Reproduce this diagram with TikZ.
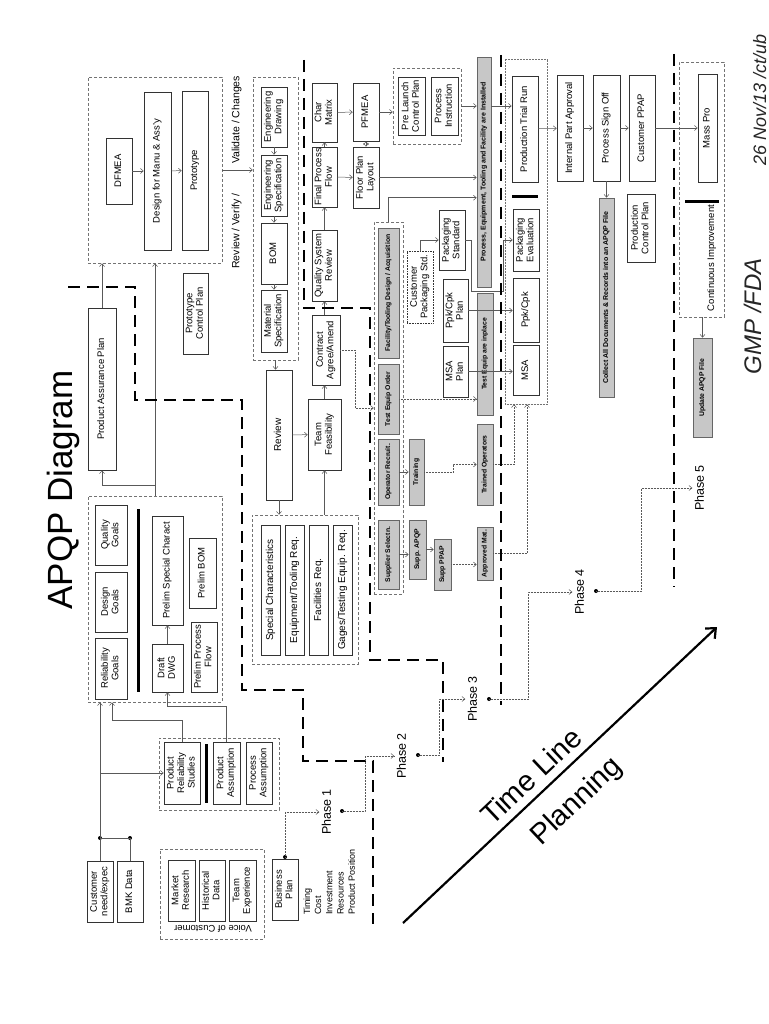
\documentclass[tikz,border=0pt]{standalone}
\usepackage{fontspec}
\setmainfont{Liberation Sans}
\usepackage{tikz}
\usetikzlibrary{positioning,arrows.meta,calc}
\newcommand{\vtext}[1]{\rotatebox{90}{\begin{tabular}{@{}c@{}}#1\end{tabular}}}
\tikzset{
  box/.style={
    draw=black!80,
    line width=0.6pt,
    fill=white,
    inner sep=0pt,
    font=\fontsize{9.5}{10.5}\selectfont
  },
  graybox/.style={
    box,
    fill=black!22,
    draw=black!60,
    font=\fontsize{6.8}{7.5}\selectfont\bfseries
  },
  grp/.style={draw=black!55, line width=0.5pt, dash pattern=on 3pt off 2pt},
  dotgrp/.style={draw=black!55, line width=0.5pt, densely dotted},
  wh/.style 2 args={minimum width=#1pt, minimum height=#2pt},
  arrow/.style={
    draw=black!65,
    line width=0.5pt,
    -{Straight Barb[length=3pt,width=5pt]}
  },
  both/.style={arrow, {Straight Barb[length=3pt,width=5pt]}-{Straight Barb[length=3pt,width=5pt]}},
  dotarrow/.style={arrow, densely dotted},
  link/.style={draw=black!65, line width=0.5pt},
  bar/.style={line width=3pt, black},
  phaseline/.style={line width=2.4pt, dash pattern=on 12pt off 7pt},
  phase/.style={inner sep=1.5pt, font=\fontsize{12.5}{14}\selectfont},
  jdot/.style={circle, fill=black, inner sep=0pt, minimum size=4pt}
}

\begin{document}
\begin{tikzpicture}[x=1pt, y=-1pt]
  \fill[white] (0,0) rectangle (768,1024);
  \useasboundingbox (0,0) rectangle (768,1024);

  % Title
  \node[font=\fontsize{35}{40}\selectfont] (title) at (63,490) {\rotatebox{90}{APQP Diagram}};

  % Design stage
  \node[grp, wh={134}{186}] (desbox) at (155,170) {};
  \node[box, wh={26}{66}] (dfmea) at (119,171) {\vtext{DFMEA}};
  \node[box, wh={27}{158}] (dfm) at (157.5,171) {\vtext{Design for Manu \& Ass'y}};
  \node[box, wh={26}{159}] (proto) at (195,170.5) {\vtext{Prototype}};
  \node[box, wh={25}{81}] (protocp) at (195.5,313.5) {\vtext{Prototype\\Control Plan}};
  \node[box, wh={28}{162}] (pap) at (102,389) {\vtext{Product Assurance Plan}};

  % Goals
  \node[grp, wh={134}{206}] (goalsbox) at (155,599) {};
  \node[box, wh={32}{60}] (qgoals) at (111,535) {\vtext{Quality\\Goals}};
  \node[box, wh={32}{60}, on grid, below=67pt of qgoals] (dgoals) {\vtext{Design\\Goals}};
  \node[box, wh={32}{61}, on grid, below=66.5pt of dgoals] (rgoals) {\vtext{Reliability\\Goals}};
  \node[box, wh={31}{109}] (psc) at (167.5,570.5) {\vtext{Prelim Special Charact}};
  \node[box, wh={27}{70}] (pbom) at (202.5,573) {\vtext{Prelim BOM}};
  \node[box, wh={31}{48}] (ddwg) at (167.5,668) {\vtext{Draft\\DWG}};
  \node[box, wh={26}{70}] (ppf) at (204,657) {\vtext{Prelim Process\\Flow}};

  % Studies and assumptions
  \node[grp, wh={120}{72}] (prsbox) at (219,774) {};
  \node[box, wh={36}{62}] (prs) at (182,773) {\vtext{Product\\Reliability\\Studies}};
  \node[box, wh={27}{62}] (pass) at (226.5,773) {\vtext{Product\\Assumption}};
  \node[box, wh={26}{62}] (procass) at (259,773) {\vtext{Process\\Assumption}};

  % Inputs
  \node[box, wh={26}{61}] (cust) at (100,891.5) {\vtext{Customer\\need/expec}};
  \node[box, wh={26}{61}] (bmk) at (130,891.5) {\vtext{BMK Data}};
  \node[grp, wh={104}{90}] (vocbox) at (212,894) {};
  \node[box, wh={27}{61}] (mr) at (181.5,890.5) {\vtext{Market\\Research}};
  \node[box, wh={26}{61}] (hd) at (212,890.5) {\vtext{Historical\\Data}};
  \node[box, wh={27}{61}] (te) at (242.5,890.5) {\vtext{Team\\Experience}};
  \node[rotate=180, font=\fontsize{9.5}{11}\selectfont] (voc) at (213,929) {Voice of Customer};
  \node[box, wh={26}{61}] (bp) at (285,889.5) {\vtext{Business\\Plan}};
  \node[anchor=south west, inner sep=0pt, font=\fontsize{9}{11.2}\selectfont] (bplist) at (302,915)
    {\rotatebox{90}{\begin{tabular}{@{}l@{}}Timing\\Cost\\Investment\\Resources\\Product Position\end{tabular}}};

  % Review stage
  \node[grp, wh={45}{283}] (revbox) at (275.5,218.5) {};
  \node[box, wh={26}{60}] (edwg) at (274,117) {\vtext{Engineering\\Drawing}};
  \node[box, wh={26}{61}, on grid, below=68.5pt of edwg] (espec) {\vtext{Engineering\\Specification}};
  \node[box, wh={26}{61}, on grid, below=68pt of espec] (bom) {\vtext{BOM}};
  \node[box, wh={26}{62}, on grid, below=67.5pt of bom] (mspec) {\vtext{Material\\Specification}};
  \node[font=\fontsize{10.5}{12}\selectfont] (rvv) at (237,231) {\vtext{Review / Verify /}};
  \node[font=\fontsize{10.5}{12}\selectfont] (vch) at (237,120) {\vtext{Validate / Changes}};
  \node[box, wh={26}{130}, font=\fontsize{10}{11}\selectfont] (review) at (279,435) {\vtext{Review}};

  \node[grp, wh={106}{149}] (splbox) at (305,589.5) {};
  \node[box, wh={19}{130}, font=\fontsize{10}{11}\selectfont] (sc) at (271,590) {\vtext{Special Characteristics}};
  \node[box, wh={19}{130}, font=\fontsize{10}{11}\selectfont, on grid, right=24pt of sc] (etr) {\vtext{Equipment/Tooling Req.}};
  \node[box, wh={19}{130}, font=\fontsize{10}{11}\selectfont, on grid, right=24pt of etr] (fr) {\vtext{Facilities Req.}};
  \node[box, wh={19}{130}, font=\fontsize{10}{11}\selectfont, on grid, right=24pt of fr] (gtr) {\vtext{Gages/Testing Equip. Req.}};

  % Process design stage
  \node[box, wh={33}{71}] (tf) at (324.5,434.5) {\vtext{Team\\Feasibility}};
  \node[box, wh={28}{70}] (cont) at (326,350) {\vtext{Contract\\Agree/Amend}};
  \node[box, wh={25}{71}] (qsr) at (324.5,265.5) {\vtext{Quality System\\Review}};
  \node[box, wh={25}{60}] (fpf) at (324.5,177) {\vtext{Final Process\\Flow}};
  \node[box, wh={25}{59}] (cm) at (324.5,112.5) {\vtext{Char\\Matrix}};
  \node[box, wh={26}{58}] (pfmea) at (366,112) {\vtext{PFMEA}};
  \node[box, wh={26}{61}] (fpl) at (366,177.5) {\vtext{Floor Plan\\Layout}};
  \node[grp, wh={68}{76}] (plbox) at (427,106) {};
  \node[box, wh={27}{58}] (plcp) at (411.5,106) {\vtext{Pre Launch\\Control Plan}};
  \node[box, wh={27}{58}] (pi) at (444.5,106) {\vtext{Process\\Instruction}};

  % Sourcing (grey)
  \node[grp, wh={29}{372}] (fgbox) at (388.5,408) {};
  \node[graybox, wh={21}{130}] (ftd) at (388.5,293) {\vtext{Facility/Tooling Design / Acquisition}};
  \node[graybox, wh={21}{70}] (teo) at (388.5,399) {\vtext{Test Equip Order}};
  \node[graybox, wh={21}{66}] (opr) at (388.5,472) {\vtext{Operator Recruit.}};
  \node[graybox, wh={21}{69}] (sup) at (388.5,554.5) {\vtext{Supplier Selectn.}};
  \node[graybox, wh={15}{66}] (trn) at (416.5,472) {\vtext{Training}};
  \node[graybox, wh={17}{59}] (sapqp) at (417.5,549.5) {\vtext{Supp. APQP}};
  \node[graybox, wh={17}{51}] (sppap) at (442.5,564.5) {\vtext{Supp PPAP}};
  \node[graybox, wh={16}{53}] (amat) at (485,553.5) {\vtext{Approved Mat.}};
  \node[graybox, wh={16}{81}] (tops) at (485,464.5) {\vtext{Trained Operators}};
  \node[graybox, wh={16}{122}] (tei) at (485,354) {\vtext{Test Equip are inplace}};
  \node[graybox, wh={14}{230}, font=\fontsize{7}{8}\selectfont\bfseries] (peti) at (484,172)
    {\vtext{Process, Equipment, Tooling and Facility are Installed}};
  \node[box, wh={25}{51}] (msap) at (455.5,371.5) {\vtext{MSA\\Plan}};
  \node[box, wh={25}{63}] (ppkp) at (455.5,310.5) {\vtext{Ppk/Cpk\\Plan}};
  \node[box, densely dotted, wh={26}{72}] (cps) at (420,287) {\vtext{Customer\\Packaging Std.}};
  \node[box, wh={26}{60}] (pstd) at (452,240) {\vtext{Packaging\\Standard}};

  % Validation stage
  \node[dotgrp, wh={42}{345}] (ptbox) at (526,231.5) {};
  \node[box, wh={26}{106}] (ptr) at (525,129) {\vtext{Production Trial Run}};
  \node[box, wh={26}{62}] (pev) at (526,240) {\vtext{Packaging\\Evaluation}};
  \node[box, wh={26}{64}] (ppk) at (526,310) {\vtext{Ppk/Cpk}};
  \node[box, wh={26}{50}] (msa) at (526,370) {\vtext{MSA}};
  \node[box, wh={26}{106}] (ipa) at (570,128) {\vtext{Internal Part Approval}};
  \node[box, wh={27}{106}, on grid, right=36.5pt of ipa] (pso) {\vtext{Process Sign Off}};
  \node[box, wh={26}{106}, on grid, right=35.5pt of pso] (cppap) {\vtext{Customer PPAP}};
  \node[box, wh={28}{68}] (pcp) at (641,228) {\vtext{Production\\Control Plan}};
  \node[graybox, wh={15}{199}, font=\fontsize{7}{8}\selectfont\bfseries] (cad) at (606.5,297.5)
    {\vtext{Collect All Documents \& Records into an APQP File}};

  % Production
  \node[grp, wh={45}{255}] (cibox) at (701.5,189.5) {};
  \node[box, wh={19}{108}] (mp) at (707.5,128) {\vtext{Mass Pro}};
  \node[font=\fontsize{9.5}{10.5}\selectfont] (ci) at (712,258) {\vtext{Continuous Improvement}};
  \node[graybox, wh={19}{99}] (upd) at (702.5,387.5) {\vtext{Update APQP File}};

  % Separator bars
  \draw[bar] (138,509) -- (138,692);
  \draw[bar] (206,744) -- (206,803);
  \draw[bar] (512,197) -- (538,197);
  \draw[bar] (685,202) -- (719,202);

  % Design links
  \draw[arrow] (dfmea) -- (dfm);
  \draw[arrow] (dfm) -- (proto);
  \draw[arrow] (desbox.east) -- (desbox.east -| revbox.west);
  \draw[arrow] (pap.north) -- (pap.north |- desbox.south);
  \draw[arrow] (goalsbox.north) -- (desbox.south);
  \draw[arrow] (goalsbox.north) -- ++(0,-11) -| (pap.south);
  \draw[arrow] (ddwg) -- (psc);

  % Input links
  \node[jdot] (cd1) at (100,838) {};
  \node[jdot] (cd2) at (130,838) {};
  \draw[arrow] (cust.north) -- (cust.north |- goalsbox.south);
  \draw[link] (bmk.north) -- (cd2.center) -- (cd1.center);
  \draw[arrow] (cust.north |- prs.west) -- (prs.west);
  \draw[arrow] (prs.north) -- ++(0,-21) -| ([xshift=-43pt]goalsbox.south);
  \draw[arrow] (pass.north) -- ++(0,-35) -| (ddwg.south);

  % Review links
  \draw[arrow] (edwg) -- (espec);
  \draw[arrow] (espec) -- (bom);
  \draw[arrow] (bom) -- (mspec);
  \draw[arrow] (revbox.south) -- (revbox.south |- review.north);
  \draw[arrow] (review.south) -- (review.south |- splbox.north);
  \draw[arrow] (review) -- (tf);
  \draw[arrow] (tf.south |- splbox.north) -- (tf.south);
  \draw[arrow] (tf.north) -- (tf.north |- cont.south);
  \draw[arrow] (qsr.south |- cont.north) -- (qsr.south);
  \draw[arrow] (qsr) -- (fpf);
  \draw[arrow] (fpf) -- (cm);
  \draw[arrow] (cm) -- (pfmea);
  \draw[arrow] (fpf) -- (fpl);
  \draw[both] (pfmea) -- (fpl);
  \draw[arrow] (pfmea.east) -- (pfmea.east -| plbox.west);
  \draw[arrow] (plbox.east) -- (plbox.east -| peti.west);
  \draw[arrow] (peti.east |- plbox.east) -- (plbox.east -| ptr.west);
  \draw[arrow] (fpl.east) -- (fpl.east -| peti.west);
  \draw[arrow] (fgbox.north) -- ++(0,-24) coordinate (fj) -- (fj -| peti.west);
  \draw[dotarrow] (cont.east) -- ++(15,0) |- (fgbox.west);

  % Sourcing links
  \draw[arrow] (opr) -- (trn);
  \draw[dotarrow] (trn.east) -- ++(29,0) |- (tops.west);
  \draw[arrow] (sup.east) -- (sup.east -| sapqp.west);
  \draw[arrow] (sapqp.east) -- (sapqp.east -| sppap.west);
  \draw[dotarrow] (sppap.east) -- (sppap.east -| amat.west);
  \draw[dotarrow] (teo.east) -- (teo.east -| tei.west);
  \draw[arrow] (cps.north) |- (pstd.west);
  \draw[arrow] (pstd.east) -- ++(6,0) -- ++(0,51) -- ++(32,0) |- (pev.west);
  \draw[arrow] (ppkp.east) -- (ppkp.east -| ppk.west);
  \draw[arrow] (msap.east) -- (msap.east -| msa.west);
  \draw[dotarrow] (tops.east) -| ([xshift=-12pt]ptbox.south);
  \draw[dotarrow] (amat.east) -| ([xshift=1pt]ptbox.south);

  % Launch links
  \draw[arrow] (ptr) -- (ipa);
  \draw[arrow] (ipa) -- (pso);
  \draw[arrow] (pso) -- (cppap);
  \draw[arrow] (cppap) -- (mp);
  \draw[arrow] (pso.south) -- (pso.south |- cad.north);
  \draw[arrow] (upd.north |- cibox.south) -- (upd.north);

  % Phase boundaries
  \draw[phaseline] (68,287) -- (135,287) -- (135,400) -- (242,400) -- (242,690) -- (303,690)
    -- (303,761) -- (373,761) -- (373,924);
  \draw[phaseline] (304,60) -- (304,308) -- (370,308) -- (370,660) -- (443,660) -- (443,762);
  \draw[phaseline] (501,55) -- (501,705);
  \draw[phaseline] (674,54) -- (674,587);

  % Phase labels
  \node[phase] (ph1) at (328,812) {\vtext{Phase 1}};
  \node[phase] (ph2) at (403,756) {\vtext{Phase 2}};
  \node[phase] (ph3) at (474,699) {\vtext{Phase 3}};
  \node[phase] (ph4) at (581,592) {\vtext{Phase 4}};
  \node[phase] (ph5) at (701,488) {\vtext{Phase 5}};
  \node[jdot] (bpd) at (285,857) {};
  \node[jdot] (ph1d) at (342,811) {};
  \node[jdot] (ph2d) at (418,755) {};
  \node[jdot] (ph3d) at (489,699) {};
  \node[jdot] (ph4d) at (596,591) {};
  \draw[dotarrow] (bpd.center) |- (ph1);
  \draw[dotarrow] (ph1d.center) -- ++(23,0) |- (ph2);
  \draw[dotarrow] (ph2d.center) -- ++(21,0) |- (ph3);
  \draw[dotarrow] (ph3d.center) -- ++(39,0) |- (ph4);
  \draw[dotarrow] (ph4d.center) -- ++(45,0) |- (ph5);

  % Time line
  \coordinate (tl0) at (403,923);
  \coordinate (tl1) at (717,627);
  \draw[line width=2.2pt, -{Straight Barb[length=8pt,width=14pt]}] (tl0) -- (tl1);
  \node[rotate=43.3, font=\fontsize{29}{30}\selectfont] (tline) at (531,776) {Time Line};
  \node[rotate=43.3, font=\fontsize{29}{30}\selectfont] (plan) at (577,802) {Planning};

  % Handwritten notes
  \node[black!85, font=\fontsize{24}{26}\selectfont\itshape] (gmp) at (756,316) {\vtext{GMP /FDA}};
  \node[black!85, font=\fontsize{18}{20}\selectfont\itshape] (date) at (762,100) {\vtext{26 Nov/13 /ct/ub}};

\end{tikzpicture}
\end{document}
